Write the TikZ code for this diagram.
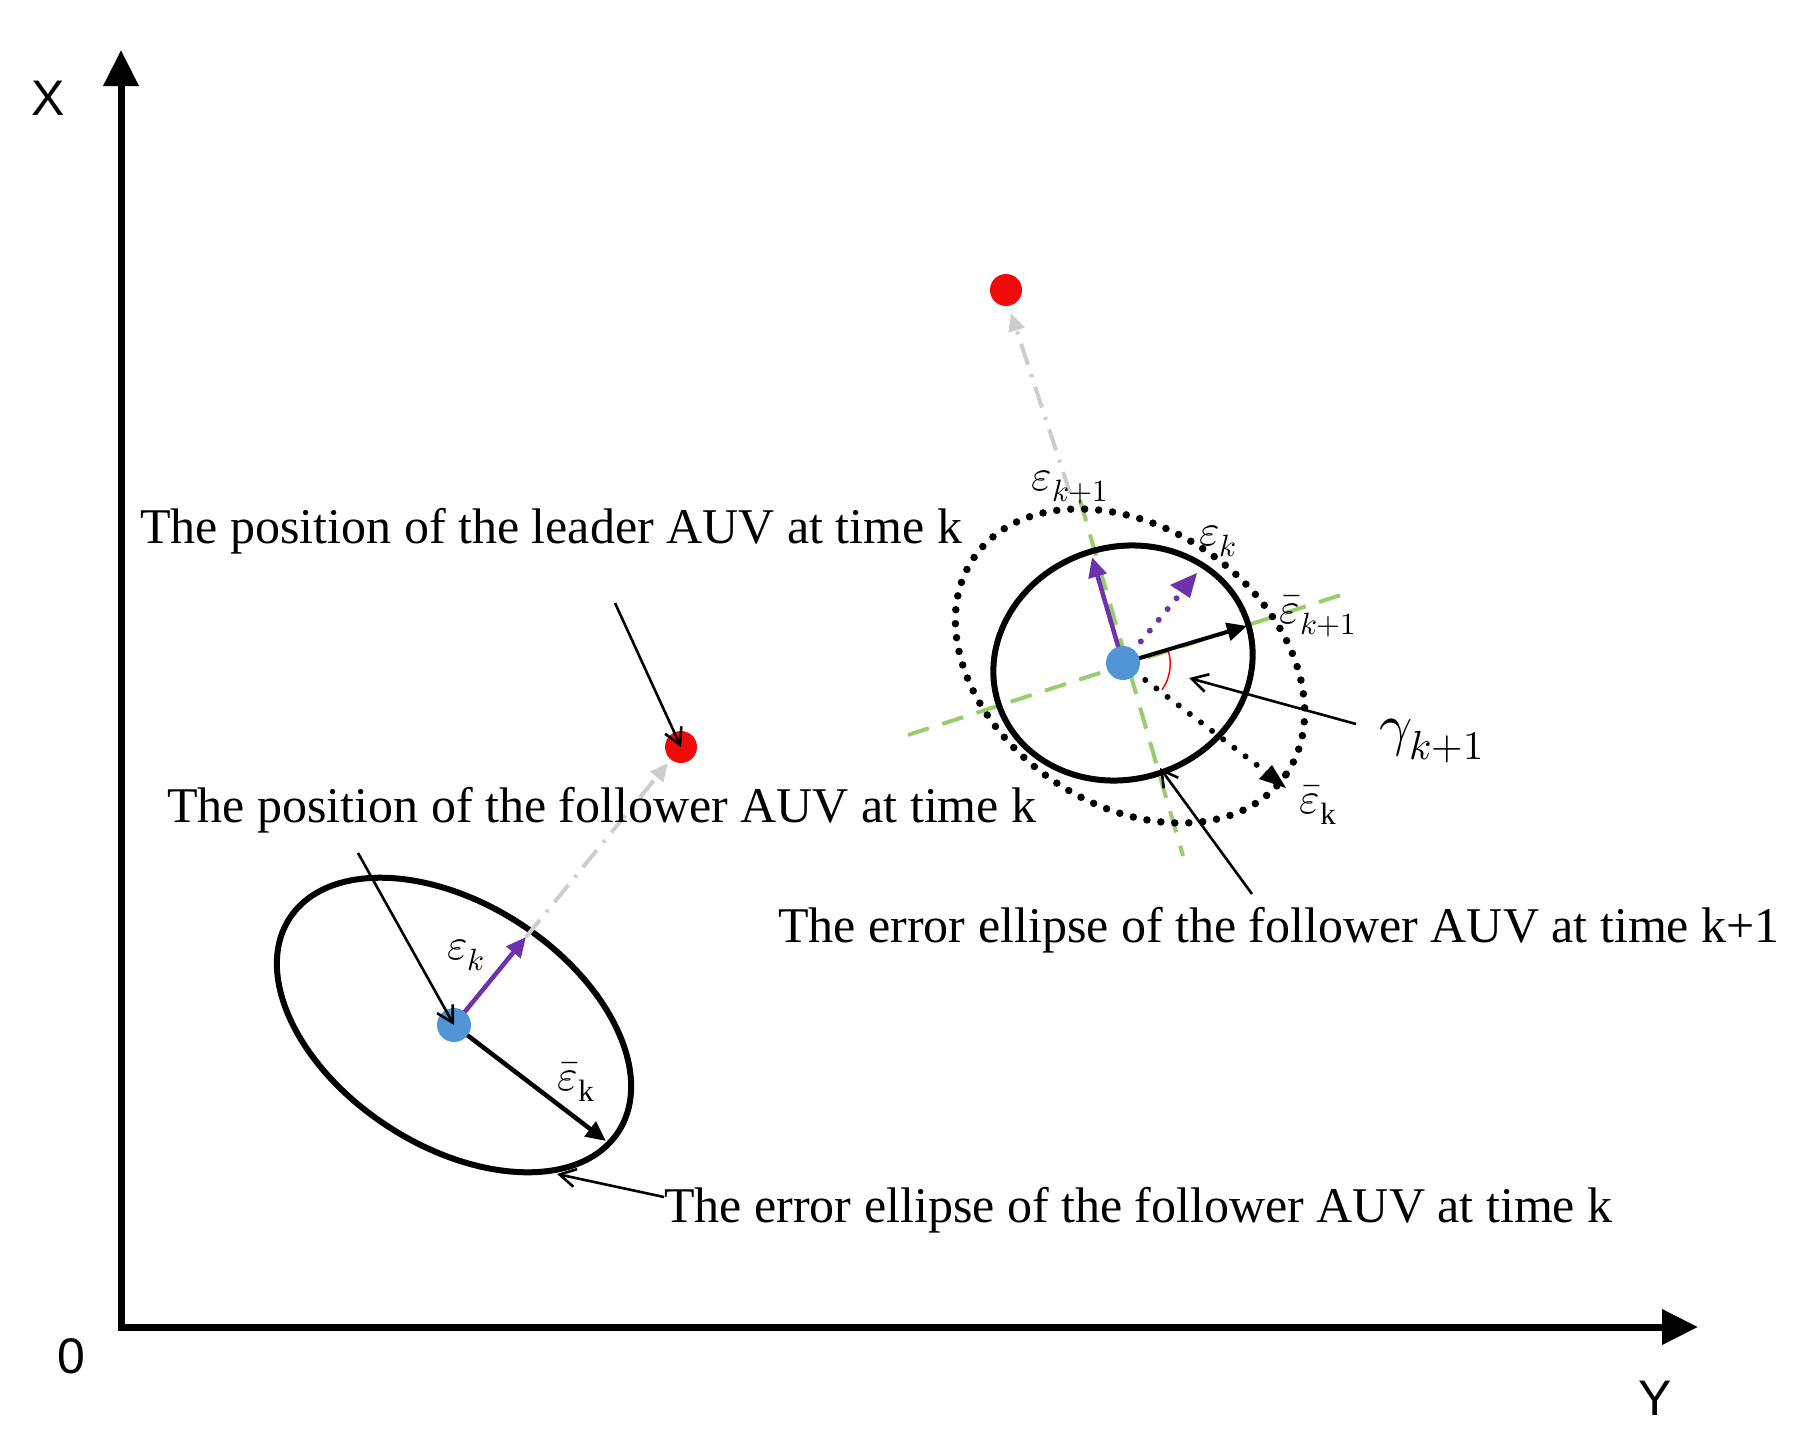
\documentclass[tikz,border=0pt]{standalone}
\usepackage{fontspec}
\usepackage{unicode-math}
\setmainfont{Liberation Serif}
\setmathfont{Latin Modern Math}
\newfontfamily\axfont{Liberation Sans}
\usetikzlibrary{arrows.meta}
\definecolor{fblue}{RGB}{80,150,215}
\definecolor{lred}{RGB}{240,10,10}
\definecolor{purp}{RGB}{110,50,170}
\definecolor{lgreen}{RGB}{150,205,110}
\definecolor{lgray}{RGB}{205,205,205}
\tikzset{
 lbl/.style={font=\fontsize{50}{58}\selectfont, inner sep=0pt, anchor=west},
 mlbl/.style={font=\fontsize{44}{50}\selectfont, inner sep=0pt},
 axlbl/.style={font=\axfont\fontsize{50}{60}\selectfont, inner sep=0pt},
 ptr/.style={line width=2.6pt, -{Straight Barb[length=16pt,width=18pt,line width=2.6pt]}},
 ell/.style={line width=6pt},
 dotl/.style={line width=7.5pt, line cap=round, dash pattern=on 0pt off 14pt},
 vec/.style={line width=4.5pt, -{Triangle[length=20pt,width=18pt]}},
 grn/.style={lgreen, line width=4pt, dash pattern=on 22pt off 14pt},
 gdd/.style={lgray, line width=4pt, dash pattern=on 22pt off 10pt on 3pt off 10pt, -{Triangle[length=18pt,width=16pt]}},
 dotc/.style={circle, inner sep=0pt, minimum size=#1},
}
\begin{document}
\begin{tikzpicture}[x=1pt,y=-1pt]
\useasboundingbox (0,0) rectangle (1802,1454);
% axes
\coordinate (Xt) at (121,50);
\coordinate (Yt) at (1698,1327);
\draw[line width=7pt,-{Triangle[length=36pt,width=34pt]}] (121,1330) -- (Xt);
\draw[line width=7pt,-{Triangle[length=36pt,width=34pt]}] (118,1327) -- (Yt);
\node[axlbl] (xl) at (48,98) {X};
\node[axlbl] (ol) at (71,1356) {0};
\node[axlbl] (yl) at (1655,1398) {Y};
% left
\coordinate (F1) at (454,1025);
\coordinate (L1) at (681,747);
\draw[ell] (F1) ellipse[x radius=196, y radius=121, rotate=-33];
\coordinate (p1) at (526,937);
\coordinate (b1) at (606,1141);
\draw[gdd] (p1) -- (668,763);
\draw[purp,vec] (F1) -- (p1);
\draw[vec] (F1) -- (b1);
\fill[fblue] (F1) circle (17);
\fill[lred] (L1) circle (16);
\node[mlbl] (e1) at (466,955) {$\varepsilon_k$};
\node[mlbl] (eb1) at (576,1082) {$\bar\varepsilon_{\mathrm{k}}$};
% right
\coordinate (F2) at (1123,663);
\coordinate (L2) at (1006,290);
\draw[grn] (908,735) -- (1350,592);
\draw[grn] (1080,500) -- (1183,856);
\draw[gdd] (1070,493) -- (1011,313);
\draw[ell] (F2) ellipse[x radius=131, y radius=116, rotate=18];
\draw[dotl] (1130,666) ellipse[x radius=190, y radius=138, rotate=-35];
\draw[lred, line width=1.5pt] (1168,650) arc[start angle=-18, end angle=35, radius=45];
\draw[purp,vec] (F2) -- (1092,557);
\draw[purp,dotl,line width=6pt] (F2) -- (1185,588);
\fill[purp] (1197,573) -- (1170,585) -- (1190,598) -- cycle;
\draw[vec,line width=4pt] (F2) -- (1247,626);
\draw[dotl,line width=6pt] (F2) -- (1270,775);
\fill[black] (1286,788) -- (1259,779) -- (1272,765) -- cycle;
\fill[fblue] (F2) circle (17);
\fill[lred] (L2) circle (16);
\node[mlbl] (e2) at (1070,487) {$\varepsilon_{k+1}$};
\node[mlbl] (e3) at (1218,541) {$\varepsilon_k$};
\node[mlbl] (e4) at (1318,616) {$\bar\varepsilon_{k+1}$};
\node[mlbl,font=\fontsize{58}{64}\selectfont] (g) at (1432,741) {$\gamma_{k+1}$};
\node[mlbl] (e5) at (1318,805) {$\bar\varepsilon_{\mathrm{k}}$};
\coordinate (ga) at (1189,678);
\draw[ptr] (1356,724) -- (ga);
% texts
\node[lbl] (t1) at (140,531) {The position of the leader AUV at time k};
\node[lbl] (t2) at (167,810) {The position of the follower AUV at time k};
\node[lbl] (t3) at (778,930) {The error ellipse of the follower AUV at time k+1};
\node[lbl] (t4) at (664,1210) {The error ellipse of the follower AUV at time k};
\draw[ptr] (615,603) -- (L1);
\draw[ptr] (358,853) -- (F1);
\draw[ptr] (1252,894) -- (1160,768);
\draw[ptr] (664,1197) -- (557,1174);
\end{tikzpicture}
\end{document}
